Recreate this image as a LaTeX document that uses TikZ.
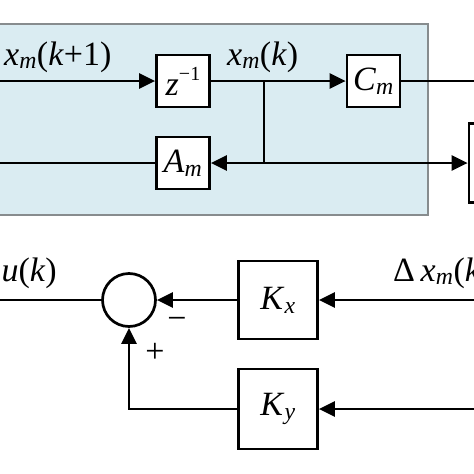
\documentclass[tikz,border=0pt]{standalone}
\usepackage{fontspec}
\setmainfont{Liberation Serif}
\usetikzlibrary{arrows.meta,positioning,calc}
\definecolor{modelblue}{RGB}{218,236,242}
\definecolor{framegray}{RGB}{135,140,142}
\newcommand{\ivar}[1]{\textit{#1}}
\newcommand{\sbs}[1]{\textsubscript{\textit{#1}}}
\begin{document}
\begin{tikzpicture}
[x=1pt,y=-1pt,font=\fontsize{34}{40}\selectfont,
block/.style={shape=rectangle,draw=black,fill=white,line width=2.7pt,inner sep=0pt},
sumnode/.style={shape=circle,draw=black,fill=white,line width=2.7pt,minimum size=53pt,inner sep=0pt},
myline/.style={line width=2.7pt},
myarrow/.style={line width=2.7pt,-{Triangle[length=16pt,width=15pt]}},
lbl/.style={inner sep=0pt,anchor=base west}]
\useasboundingbox (0,0) rectangle (474,474);
\clip (0,0) rectangle (474,474);
%% model part
\fill[modelblue,draw=framegray,line width=1.3pt] (-10,24) rectangle (428,215);
\node (z) [block,minimum width=53pt,minimum height=52pt] at (183,81) {\ivar{z}\raisebox{15pt}{\fontsize{20}{20}\selectfont −1}};
\node (Cm) [block,minimum width=53pt,minimum height=52pt] at (373.5,81) {\ivar{C}\sbs{m}};
\node (Am) [block,minimum width=53pt,minimum height=52pt] at (183,163) {\ivar{A}\sbs{m}};
\node (Rb) [block,minimum width=80pt,minimum height=79pt] at (509,163) {};
\coordinate (inL) at (-5,81);
\coordinate (outR) at (480,81);
\coordinate (outL) at (-5,163);
\coordinate (br) at (264,81);
\coordinate (br2) at (264,163);
\draw[myarrow] (inL) -- (z);
\draw[myarrow] (z) -- (Cm);
\draw[myline] (Cm) -- (outR);
\draw[myline] (br) -- (br2);
\draw[myarrow] (br2) -- (Am);
\draw[myarrow] (br2) -- (Rb);
\draw[myline] (Am) -- (outL);
\node (lxk1) [lbl] at (4,65) {\ivar{x}\sbs{m}(\ivar{k}+1)};
\node (lxk) [lbl] at (227,65) {\ivar{x}\sbs{m}(\ivar{k})};
%% feedback part
\node (sum) [sumnode] at (129,300) {};
\node (Kx) [block,minimum width=79pt,minimum height=78pt] at (278,300) {\ivar{K}\sbs{x}};
\node (Ky) [block,minimum width=79pt,minimum height=80pt] at (278,409) {\ivar{K}\sbs{y}};
\coordinate (uL) at (-5,300);
\coordinate (inKx) at (480,300);
\coordinate (inKy) at (480,409);
\draw[myline] (sum) -- (uL);
\draw[myarrow] (Kx) -- (sum);
\draw[myarrow] (inKx) -- (Kx);
\draw[myarrow] (inKy) -- (Ky);
\draw[myarrow] (Ky) -| (sum);
\node (lu) [inner sep=0pt,anchor=base east] at (57,281) {Δ\,\ivar{u}(\ivar{k})};
\node (ldx) [lbl] at (393,281) {Δ\,\ivar{x}\sbs{m}(\ivar{k})};
\node (lminus) at (177,323) {−};
\node (lplus) at (155,353) {+};
\end{tikzpicture}
\end{document}
